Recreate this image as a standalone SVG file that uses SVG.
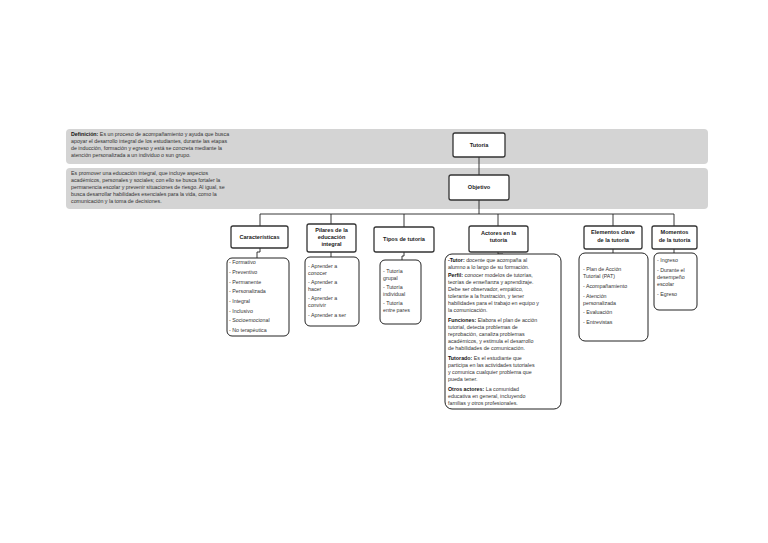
<svg xmlns="http://www.w3.org/2000/svg" width="768" height="543" viewBox="0 0 768 543">
<style>
text{font-family:"Liberation Sans",Arial,sans-serif;font-size:5.3px;fill:#333}
.b{font-weight:bold;fill:#111}
.h{font-weight:bold;font-size:5.6px;fill:#222}
.band{fill:#d4d4d4}
.hd{fill:#fff;stroke:#333;stroke-width:1.3}
.bx{fill:#fff;stroke:#222;stroke-width:1}
.ln{fill:none;stroke:#222;stroke-width:0.9}
</style>
<rect width="768" height="543" fill="#fff"/>
<rect class="band" x="66" y="129" width="642" height="35" rx="4"/>
<rect class="band" x="66" y="168" width="642" height="41" rx="4"/>
<g id="definicion">
<text x="71" y="136"><tspan class="b">Definición:</tspan> Es un proceso de acompañamiento y ayuda que busca</text>
<text x="71" y="143">apoyar el desarrollo integral de los estudiantes, durante las etapas</text>
<text x="71" y="150">de inducción, formación y egreso y está se concreta mediante la</text>
<text x="71" y="157">atención personalizada a un individuo o sun grupo.</text>
</g>
<g id="objetivo-texto">
<text x="71" y="175">Es promover una educación integral, que incluye aspectos</text>
<text x="71" y="182">académicos, personales y sociales; con ello se busca fortaler la</text>
<text x="71" y="189">permanencia escolar  y prevenir situaciones de riesgo. Al igual, se</text>
<text x="71" y="196">busca desarrollar habilidades esenciales para la vida, como la</text>
<text x="71" y="203">comunicación y la toma de decisiones.</text>
</g>
<g id="connectors">
<path class="ln" d="M479 157V175M479 200V214M260 214H674M260 214V226M331 214V224M404 214V227M498 214V226M613 214V226M674 214V226"/>
<path class="ln" d="M260 248V252H257V258M331 252V257M404 252V256H402V260M498 252V254H503V254M613 249V253M674 249V253"/>
</g>
<g id="tutoria"><rect class="hd" x="453" y="133" width="52" height="24" rx="2"/><text class="h" x="479" y="147" text-anchor="middle">Tutoría</text></g>
<g id="objetivo"><rect class="hd" x="449" y="175" width="60" height="25" rx="2"/><text class="h" x="479" y="189" text-anchor="middle">Objetivo</text></g>
<g id="caracteristicas"><rect class="hd" x="231" y="226" width="57" height="22" rx="2"/><text class="h" x="259.5" y="239" text-anchor="middle">Características</text></g>
<g id="pilares"><rect class="hd" x="307" y="224" width="49" height="28" rx="2"/><text class="h" x="331.5" y="232" text-anchor="middle">Pilares de la</text><text class="h" x="331.5" y="239" text-anchor="middle">educación</text><text class="h" x="331.5" y="246" text-anchor="middle">integral</text></g>
<g id="tipos"><rect class="hd" x="374" y="227" width="60" height="25" rx="2"/><text class="h" x="404" y="241" text-anchor="middle">Tipos de tutoría</text></g>
<g id="actores"><rect class="hd" x="469" y="226" width="59" height="26" rx="2"/><text class="h" x="498.5" y="235" text-anchor="middle">Actores en la</text><text class="h" x="498.5" y="242" text-anchor="middle">tutoría</text></g>
<g id="elementos"><rect class="hd" x="584" y="226" width="58" height="23" rx="2"/><text class="h" x="613" y="234" text-anchor="middle">Elementos clave</text><text class="h" x="613" y="242" text-anchor="middle">de la tutoría</text></g>
<g id="momentos"><rect class="hd" x="652" y="226" width="45" height="23" rx="2"/><text class="h" x="674.5" y="234" text-anchor="middle">Momentos</text><text class="h" x="674.5" y="242" text-anchor="middle">de la tutoría</text></g>
<g id="caract-lista"><rect class="bx" x="227" y="258" width="62" height="78" rx="5"/>
<text x="229" y="264">- Formativo</text><text x="229" y="274">- Preventivo</text><text x="229" y="284">- Permanente</text><text x="229" y="293">- Personalizada</text><text x="229" y="303">- Integral</text><text x="229" y="313">- Inclusivo</text><text x="229" y="322">- Socioemocional</text><text x="229" y="332">- No terapéutica</text></g>
<g id="pilares-lista"><rect class="bx" x="305" y="257" width="54" height="69" rx="5"/>
<text x="308" y="268">- Aprender a</text><text x="308" y="275">conocer</text><text x="308" y="284">- Aprender a</text><text x="308" y="291">hacer</text><text x="308" y="300">- Aprender a</text><text x="308" y="307">convivir</text><text x="308" y="317">- Aprender a ser</text></g>
<g id="tipos-lista"><rect class="bx" x="380" y="260" width="41" height="64" rx="5"/>
<text x="383" y="273">- Tutoría</text><text x="383" y="280">grupal</text><text x="383" y="289">- Tutoría</text><text x="383" y="296">individual</text><text x="383" y="305">- Tutoría</text><text x="383" y="312">entre pares</text></g>
<g id="actores-lista"><rect class="bx" x="445" y="254" width="116" height="155" rx="7"/>
<text x="448" y="262"><tspan class="b">-Tutor:</tspan> docente que acompaña al</text>
<text x="448" y="269">alumno a lo largo de su formación.</text>
<text x="448" y="277"><tspan class="b">Perfil:</tspan> conocer modelos de tutorías,</text>
<text x="448" y="284">teorías de enseñanza y aprendizaje.</text>
<text x="448" y="291">Debe ser observador, empático,</text>
<text x="448" y="298">tolerante a la frustración, y tener</text>
<text x="448" y="305">habilidades para el trabajo en equipo y</text>
<text x="448" y="312">la comunicación.</text>
<text x="448" y="322"><tspan class="b">Funciones:</tspan> Elabora el plan de acción</text>
<text x="448" y="329">tutorial, detecta problemas de</text>
<text x="448" y="336">reprobación, canaliza problemas</text>
<text x="448" y="343">académicos, y estimula el desarrollo</text>
<text x="448" y="350">de habilidades de comunicación.</text>
<text x="448" y="360"><tspan class="b">Tutorado:</tspan> Es el estudiante que</text>
<text x="448" y="367">participa en las actividades tutoriales</text>
<text x="448" y="374">y comunica cualquier problema que</text>
<text x="448" y="381">pueda tener.</text>
<text x="448" y="391"><tspan class="b">Otros actores:</tspan> La comunidad</text>
<text x="448" y="398">educativa en general, incluyendo</text>
<text x="448" y="405">familias y otros profesionales.</text></g>
<g id="elementos-lista"><rect class="bx" x="579" y="253" width="69" height="88" rx="6"/>
<text x="583" y="271">- Plan de Acción</text><text x="583" y="278">Tutorial (PAT)</text><text x="583" y="288">- Acompañamiento</text><text x="583" y="298">- Atención</text><text x="583" y="305">personalizada</text><text x="583" y="314">- Evaluación</text><text x="583" y="324">- Entrevistas</text></g>
<g id="momentos-lista"><rect class="bx" x="654" y="253" width="43" height="57" rx="5"/>
<text x="657" y="262">- Ingreso</text><text x="657" y="272">- Durante el</text><text x="657" y="279">desempeño</text><text x="657" y="286">escolar</text><text x="657" y="296">- Egreso</text></g>
</svg>
